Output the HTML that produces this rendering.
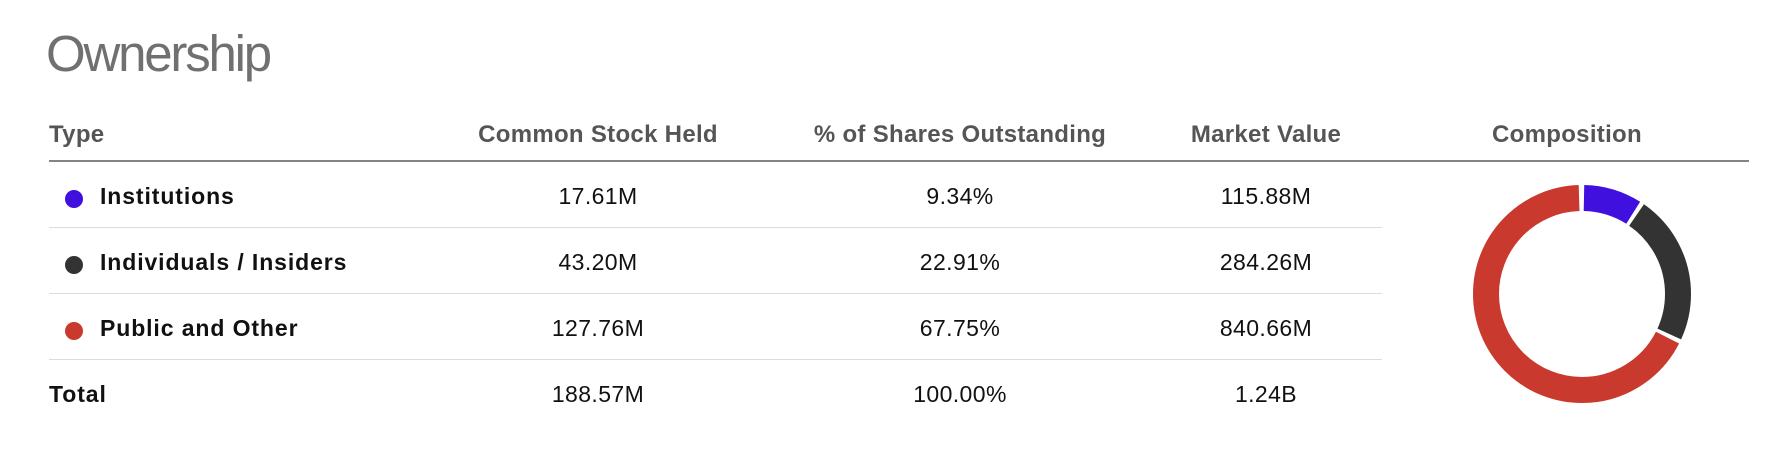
<!DOCTYPE html>
<html><head><meta charset="utf-8"><style>
body{margin:0;width:1788px;height:452px;background:#fff;font-family:"Liberation Sans",Arial,sans-serif;position:relative;overflow:hidden}
.a{position:absolute;white-space:nowrap}
.t{left:46px;top:24px;font-size:51px;color:#707070;letter-spacing:-2.2px}
.h{font-size:24px;font-weight:bold;color:#555;top:121px;letter-spacing:0.3px}
.c{transform:translateX(-50%)}
.v{font-size:23px;color:#111;letter-spacing:0.4px}
.n{font-size:23px;font-weight:bold;color:#111;left:100px;letter-spacing:0.9px}
.d{position:absolute;left:65px;width:18px;height:18px;border-radius:50%}
.l{position:absolute;left:49px;width:1333px;height:1px;background:#dcdcdc}
</style></head><body>
<div class="a t">Ownership</div>
<div class="a h" style="left:49px">Type</div>
<div class="a h c" style="left:598px">Common Stock Held</div>
<div class="a h c" style="left:960px">% of Shares Outstanding</div>
<div class="a h c" style="left:1266px">Market Value</div>
<div class="a h c" style="left:1567px">Composition</div>
<div style="position:absolute;left:49px;top:160px;width:1700px;height:2px;background:#7f8589"></div>

<div class="d" style="top:190px;background:#3f10de"></div>
<div class="a n" style="top:183px">Institutions</div>
<div class="a v c" style="left:598px;top:183px">17.61M</div>
<div class="a v c" style="left:960px;top:183px">9.34%</div>
<div class="a v c" style="left:1266px;top:183px">115.88M</div>
<div class="l" style="top:227px"></div>

<div class="d" style="top:256px;background:#333"></div>
<div class="a n" style="top:249px">Individuals / Insiders</div>
<div class="a v c" style="left:598px;top:249px">43.20M</div>
<div class="a v c" style="left:960px;top:249px">22.91%</div>
<div class="a v c" style="left:1266px;top:249px">284.26M</div>
<div class="l" style="top:293px"></div>

<div class="d" style="top:322px;background:#c9392e"></div>
<div class="a n" style="top:315px">Public and Other</div>
<div class="a v c" style="left:598px;top:315px">127.76M</div>
<div class="a v c" style="left:960px;top:315px">67.75%</div>
<div class="a v c" style="left:1266px;top:315px">840.66M</div>
<div class="l" style="top:359px"></div>

<div class="a n" style="left:49px;top:381px">Total</div>
<div class="a v c" style="left:598px;top:381px">188.57M</div>
<div class="a v c" style="left:960px;top:381px">100.00%</div>
<div class="a v c" style="left:1266px;top:381px">1.24B</div>

<svg style="position:absolute;left:0;top:0" width="1788" height="452">
<g transform="translate(1582,294) rotate(-90)" fill="none" stroke-width="26">
<circle r="96" stroke="#3f10de" stroke-dasharray="52 600" stroke-dashoffset="-2"/>
<circle r="96" stroke="#333333" stroke-dasharray="134 600" stroke-dashoffset="-58"/>
<circle r="96" stroke="#c9392e" stroke-dasharray="404 600" stroke-dashoffset="-196"/>
</g></svg>
</body></html>
